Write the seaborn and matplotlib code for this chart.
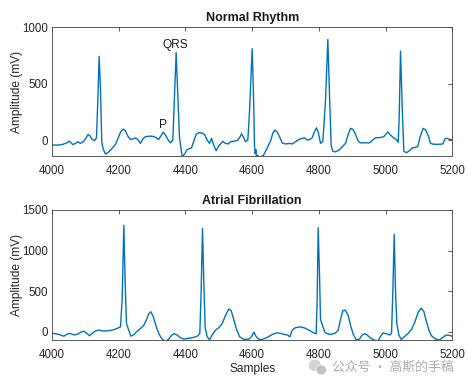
import matplotlib
matplotlib.use("Agg")
import matplotlib.pyplot as plt
from matplotlib.patches import Ellipse
import seaborn as sns
import pandas as pd

# Normal rhythm trace (sample, amplitude in mV)
normal_samples = [4000, 4015, 4030, 4045, 4050, 4055, 4062, 4070, 4077, 4085, 4095, 4102, 4108, 4114, 4120, 4128,
                  4133, 4137, 4141, 4145, 4149, 4153, 4160, 4168, 4178, 4190, 4198, 4205, 4213, 4220, 4227, 4235,
                  4243, 4250, 4257, 4265, 4272, 4280, 4295, 4305, 4312, 4320, 4327, 4333, 4340, 4347, 4355, 4362,
                  4366, 4372, 4377, 4382, 4390, 4398, 4405, 4418, 4425, 4432, 4440, 4450, 4458, 4465, 4472, 4478,
                  4484, 4492, 4500, 4507, 4512, 4520, 4528, 4536, 4545, 4555, 4562, 4568, 4574, 4580, 4587, 4592,
                  4600, 4604, 4607, 4609, 4611, 4613, 4617, 4622, 4635, 4645, 4655, 4662, 4668, 4675, 4682, 4690,
                  4700, 4712, 4720, 4730, 4740, 4750, 4757, 4765, 4773, 4780, 4787, 4793, 4799, 4805, 4812, 4820,
                  4827, 4832, 4837, 4842, 4850, 4860, 4870, 4880, 4887, 4895, 4902, 4910, 4918, 4925, 4940, 4952,
                  4960, 4970, 4985, 4995, 5002, 5007, 5013, 5022, 5032, 5038, 5041, 5045, 5050, 5055, 5063, 5072,
                  5080, 5090, 5097, 5104, 5113, 5120, 5128, 5135, 5145, 5160, 5172, 5178, 5185, 5192, 5200]
normal_values = [-45, -45, -40, -25, -10, -20, -40, -30, -15, -30, -10, 20, 50, 35, 5, -5,
                 20, 350, 740, 450, -20, -80, -125, -110, -80, -40, 20, 70, 97, 80, 35, 5,
                 10, 18, 5, -30, 10, 30, 35, 30, 20, 5, 40, 68, 45, 5, -25, 0,
                 300, 773, 400, 20, -150, -120, -85, -70, -10, 50, 65, 62, 45, 0, -30, 15,
                 -40, -95, -50, -30, -12, -30, -35, -15, -10, -5, 20, 55, 25, -15, 0, 250,
                 808, 400, -50, -120, -85, -150, -135, -160, -130, -70, -10, 60, 88, 70, 30, -25,
                 -35, -30, -35, -15, 5, 15, 20, 0, 5, 20, 75, 108, 60, -30, -10, 350,
                 890, 400, -50, -100, -105, -90, -60, -30, 40, 103, 95, 50, -10, -25, -25, -25,
                 -5, 20, 22, 30, 55, 72, 50, 25, 5, -20, 200, 788, 300, -100, -112, -95,
                 -70, -65, -55, 30, 103, 90, 40, -30, -38, -38, -35, 10, 15, 5, 5]

# Atrial fibrillation trace
af_samples = [4000, 4010, 4022, 4035, 4045, 4052, 4060, 4068, 4078, 4088, 4095, 4103, 4112, 4120, 4130, 4140,
              4150, 4165, 4180, 4192, 4205, 4210, 4215, 4219, 4223, 4228, 4236, 4245, 4255, 4265, 4275, 4283,
              4290, 4296, 4302, 4308, 4315, 4322, 4330, 4340, 4350, 4358, 4366, 4375, 4385, 4395, 4410, 4425,
              4437, 4443, 4447, 4451, 4455, 4459, 4465, 4472, 4480, 4490, 4500, 4510, 4520, 4530, 4537, 4545,
              4553, 4562, 4575, 4590, 4598, 4605, 4612, 4620, 4630, 4645, 4660, 4672, 4685, 4698, 4707, 4713,
              4720, 4730, 4745, 4758, 4770, 4783, 4792, 4795, 4798, 4802, 4805, 4810, 4818, 4828, 4840, 4850,
              4858, 4865, 4872, 4880, 4888, 4895, 4903, 4912, 4922, 4930, 4937, 4945, 4955, 4968, 4978, 4985,
              4993, 5003, 5013, 5018, 5022, 5026, 5030, 5034, 5040, 5047, 5057, 5068, 5078, 5088, 5098, 5107,
              5115, 5123, 5130, 5138, 5150, 5162, 5172, 5182, 5192, 5200]
af_values = [-20, -25, -35, -55, -30, -20, -30, -40, -25, 0, 5, -15, -50, -20, 10, 20,
             10, 10, 20, 35, 60, 400, 1310, 600, 100, 40, -55, -35, 5, 40, 80, 150,
             220, 246, 200, 120, 30, -40, -90, -120, -90, -45, -25, -40, -75, -90, -80, -70,
             -50, -20, 500, 1270, 600, 50, -60, -100, -40, 20, 50, 100, 200, 280, 260, 150,
             30, -60, -95, -90, -60, -5, -60, -95, -95, -70, -35, -15, -20, -35, -40, -65,
             20, 50, 60, 45, 20, -10, -25, 400, 1280, 700, 150, 90, -5, -30, -30, -15,
             20, 150, 260, 265, 200, 80, -30, -100, -90, -40, -25, -40, -80, -105, -110, -60,
             -15, -25, -40, -20, 500, 1200, 500, 100, -40, -95, -60, -20, 30, 120, 240, 290,
             250, 120, 20, -50, -90, -100, -70, -40, -45, -55]

x_ticks = [4000, 4200, 4400, 4600, 4800, 5000, 5200]
titles = ["Normal Rhythm", "Atrial Fibrillation"]

sns.set_style("white")
plt.rcParams['font.family'] = ['Liberation Sans', 'DejaVu Sans']

fig = plt.figure(figsize=(4.74, 3.81), dpi=100)
ax1 = fig.add_axes([0.110, 0.591, 0.844, 0.338])
ax2 = fig.add_axes([0.110, 0.108, 0.844, 0.341])

df1 = pd.DataFrame({"Samples": normal_samples, "Amplitude": normal_values})
df2 = pd.DataFrame({"Samples": af_samples, "Amplitude": af_values})

line_color = "#0072BD"
sns.lineplot(data=df1, x="Samples", y="Amplitude", ax=ax1, color=line_color, lw=1.0,
             estimator=None, sort=False)
sns.lineplot(data=df2, x="Samples", y="Amplitude", ax=ax2, color=line_color, lw=1.0,
             estimator=None, sort=False)

ax1.set_ylim(-140, 1000)
ax1.set_yticks([0, 500, 1000])
ax2.set_ylim(-100, 1500)
ax2.set_yticks([0, 500, 1000, 1500])

tfs = 8.3
edge = "#404040"
for ax, t in zip([ax1, ax2], titles):
    ax.set_xlim(4000, 5200)
    ax.set_xticks(x_ticks)
    ax.set_title(t, fontsize=9, fontweight="bold", color="#1a1a1a", pad=4)
    ax.set_ylabel("Amplitude (mV)", fontsize=8.6, color="#262626")
    ax.yaxis.set_label_coords(-0.072, 0.5)
    ax.set_xlabel("")
    ax.tick_params(direction="in", length=3, width=0.6, colors=edge, labelsize=tfs,
                   top=True, right=True, labelcolor="#262626")
    ax.tick_params(axis="x", pad=6.5)
    ax.tick_params(axis="y", pad=3)
    for s in ax.spines.values():
        s.set_color(edge)
        s.set_linewidth(0.6)
        s.set_visible(True)

ax2.set_xlabel("Samples", fontsize=8.6, color="#262626")
ax2.xaxis.set_label_coords(0.5, -0.175)

ax1.text(4368, 845, "QRS", fontsize=8.6, ha="center", va="center", color="#1a1a1a")
ax1.text(4332, 132, "P", fontsize=8.6, ha="center", va="center", color="#1a1a1a")

# watermark
fig.patches.append(Ellipse((0.664, 0.041), 0.026, 0.03, transform=fig.transFigure,
                           facecolor="#c8c8c8", edgecolor="none", alpha=0.8))
fig.patches.append(Ellipse((0.678, 0.029), 0.022, 0.026, transform=fig.transFigure,
                           facecolor="#b4b4b4", edgecolor="white", lw=0.6, alpha=0.8))
fig.text(0.70, 0.035, "公众号 · 高斯的手稿", fontsize=9.3, color="#9a9a9a", alpha=0.8,
         family=['Noto Sans CJK SC', 'DejaVu Sans'], ha="left", va="center")

fig.savefig("out.png", dpi=100, facecolor="white")
